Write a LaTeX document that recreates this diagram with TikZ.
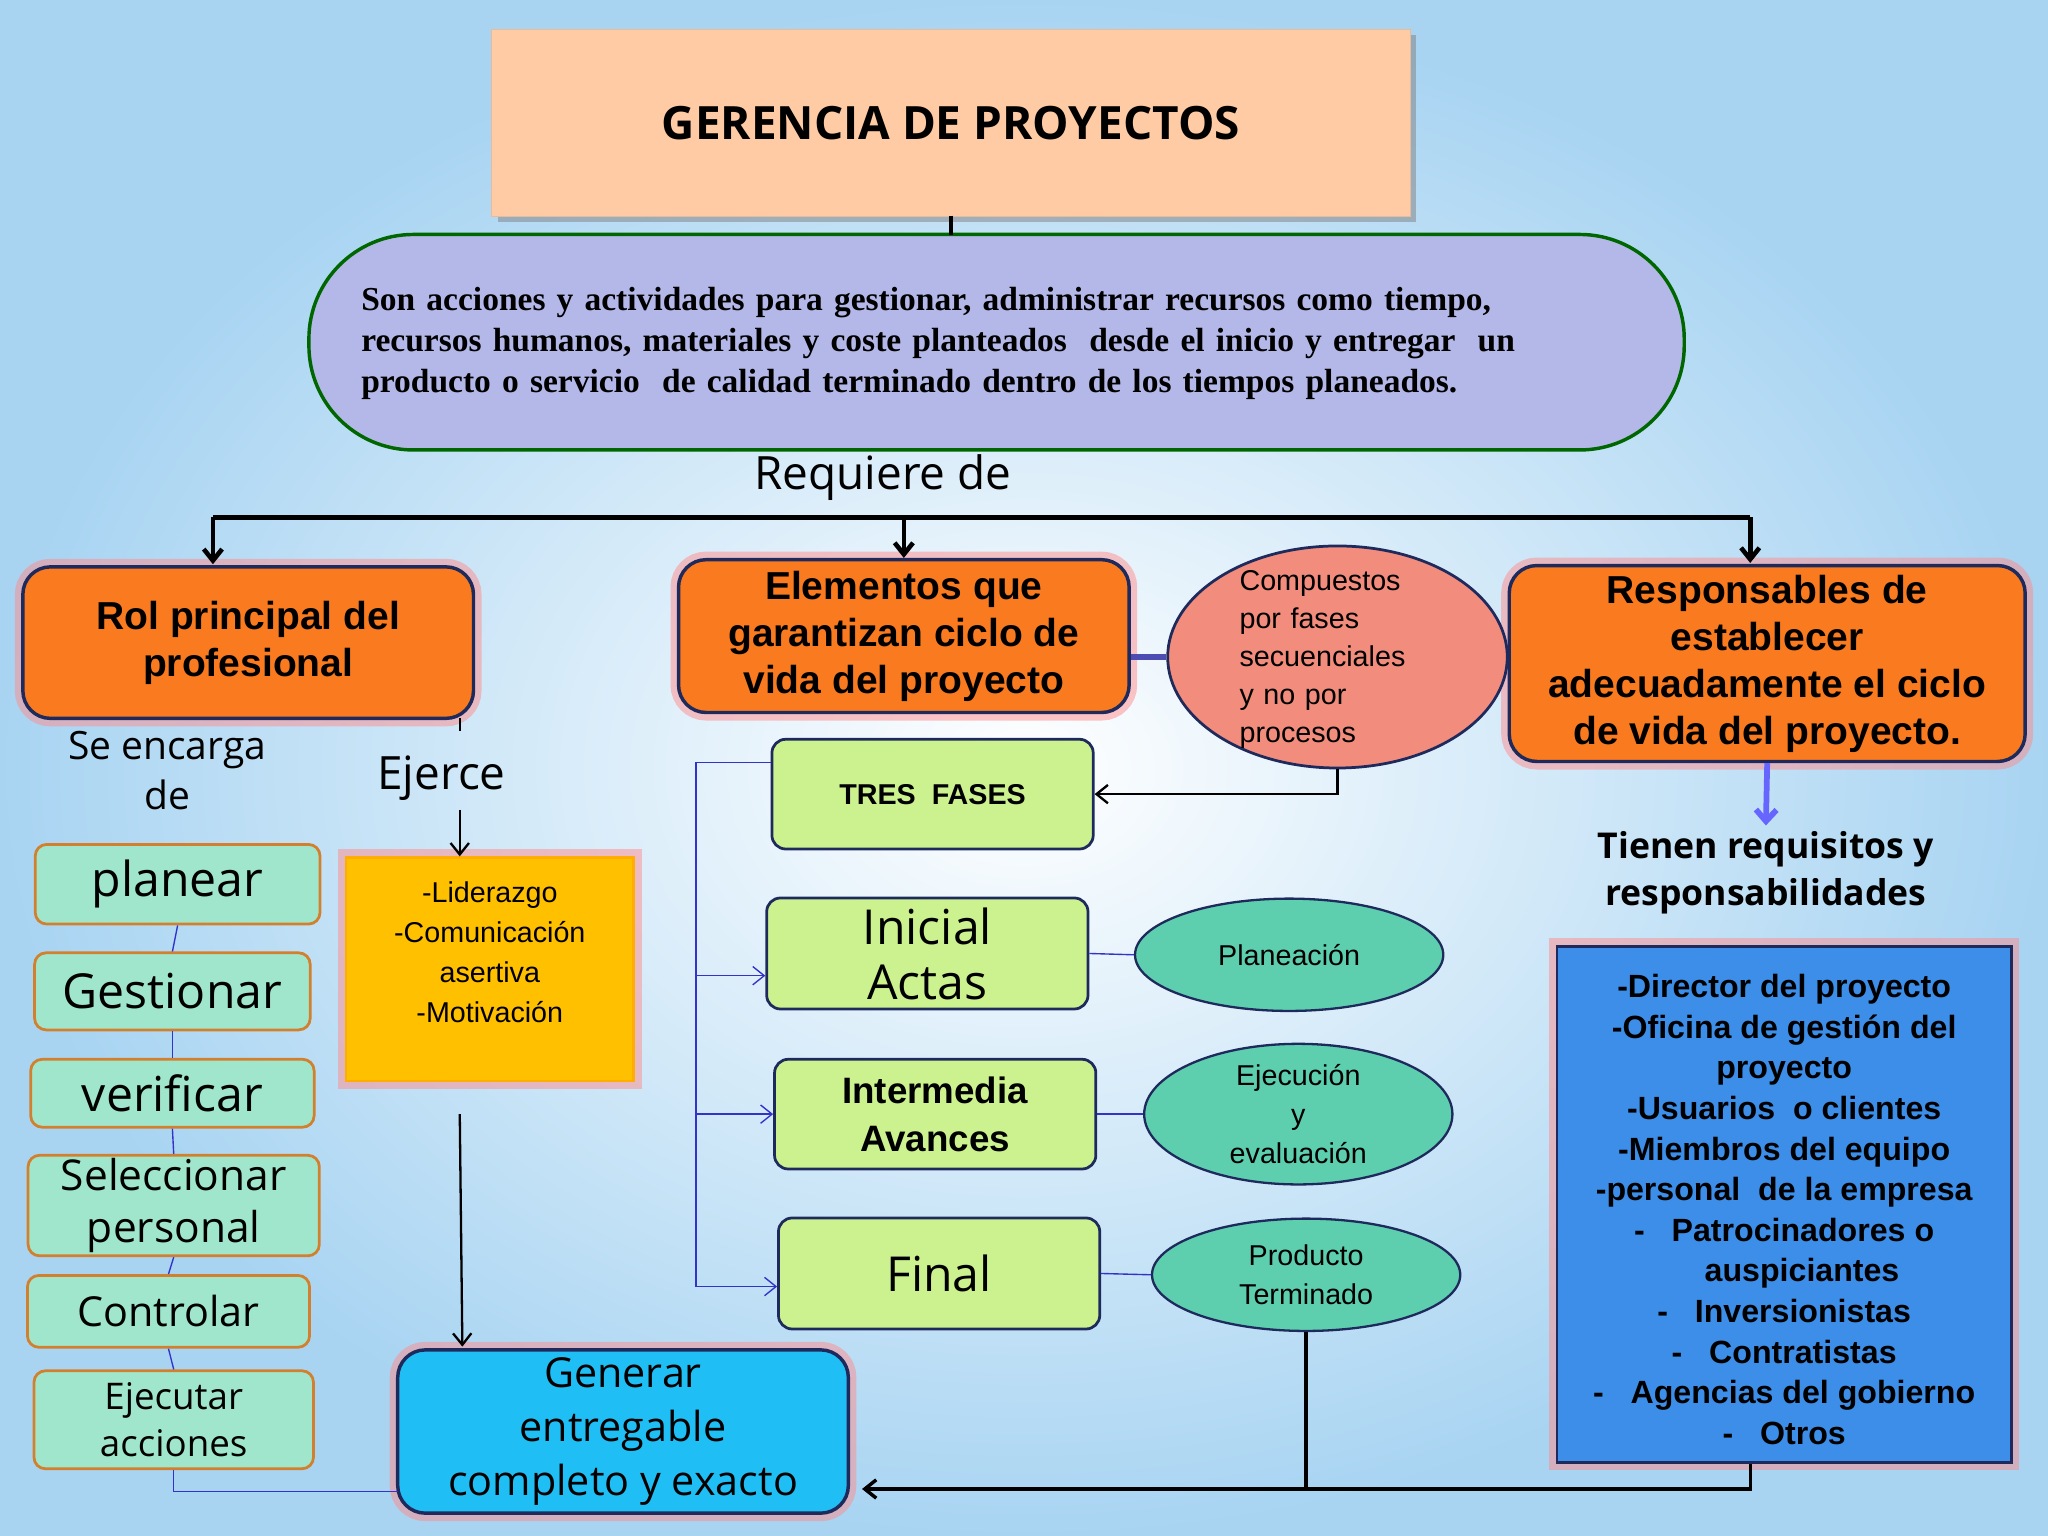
\documentclass[tikz,border=0pt]{standalone}
\usepackage{fontspec}
\setmainfont{Liberation Sans}
\newfontfamily\osans{Open Sans}
\newfontfamily\serifb{Liberation Serif}
\usetikzlibrary{shapes.geometric,arrows.meta,shadows}
\definecolor{peach}{HTML}{FFCBA4}
\definecolor{lav}{HTML}{B4B8E8}
\definecolor{orng}{HTML}{F97A1F}
\definecolor{salm}{HTML}{F28C7C}
\definecolor{lgreen}{HTML}{CCF28F}
\definecolor{teal}{HTML}{5DCFAF}
\definecolor{mint}{HTML}{A0E6CC}
\definecolor{bluebox}{HTML}{3C8EE8}
\definecolor{cyanb}{HTML}{1FBFF5}
\definecolor{yel}{HTML}{FFC000}
\definecolor{navy}{HTML}{1F2A5C}
\definecolor{bgedge}{HTML}{A8D4F2}
\tikzset{
 glow/.style={preaction={draw=red!45,line width=7pt,opacity=0.5}},
 hdr/.style={draw=navy,line width=1.5pt,fill=orng,rounded corners=12pt,glow,align=center,inner sep=0pt,
   font=\bfseries\fontsize{17}{20.5}\selectfont},
 fase/.style={draw=navy,line width=1.2pt,fill=lgreen,rounded corners=6pt,align=center,inner sep=0pt},
 ell/.style={ellipse,draw=navy,line width=1pt,fill=teal,align=center,inner sep=0pt,font=\fontsize{12.5}{17}\selectfont},
 act/.style={draw=brown!70!orange,line width=1.2pt,fill=mint,rounded corners=5pt,align=center,inner sep=0pt,font=\osans},
 thin/.style={draw=blue!60!gray,line width=0.6pt},
 arr/.style={-{Straight Barb[length=5pt,width=8pt]},line width=1pt},
 barr/.style={-{Straight Barb[length=5pt,width=8pt]},thin},
}
\begin{document}
\begin{tikzpicture}[x=0.02cm,y=-0.02cm]
\shade[inner color=white,outer color=bgedge] (0,0) rectangle (1568,1176);
\useasboundingbox (0,0) rectangle (1568,1176);
% title
\node (title) [draw=peach!80!gray,fill=peach,minimum width=703*0.02cm,minimum height=143*0.02cm,drop shadow,
  font=\osans\bfseries\fontsize{20}{24}\selectfont] at (728,94) {GERENCIA DE PROYECTOS};
\node (desc) [draw=green!40!black,line width=1.5pt,fill=lav,rounded corners=80*0.02cm,minimum width=1053*0.02cm,
  minimum height=165*0.02cm] at (763,262) {};
\node [text width=19.46cm,align=left,inner sep=0pt,font=\serifb\bfseries\fontsize{14.6}{17.8}\selectfont] at (763,263)
 {\makebox[19.46cm][s]{Son acciones y actividades para gestionar, administrar recursos como tiempo,}\\
  \makebox[19.46cm][s]{recursos humanos, materiales y coste planteados\ \ desde el inicio y entregar\ \ un}\\
  producto o servicio\ \ de calidad terminado dentro de los tiempos planeados.};
\draw[line width=1.5pt] (728,165) -- (728,180);
\node (req) [font=\osans\fontsize{20}{24}\selectfont] at (676,366) {Requiere de};
% headers
\node (rol) [hdr,minimum width=345*0.02cm,minimum height=116*0.02cm] at (190,492) {Rol principal del\\profesional};
\node (ele) [hdr,minimum width=345*0.02cm,minimum height=117*0.02cm] at (692,487) {Elementos que\\garantizan ciclo de\\vida del proyecto};
\node (res) [hdr,minimum width=395*0.02cm,minimum height=150*0.02cm] at (1353,508) {Responsables de\\establecer\\adecuadamente el ciclo\\de vida del proyecto.};
\coordinate (t1) at (163,396); \coordinate (t2) at (1340,396);
\draw[line width=2pt] (t1) -- (t2);
\draw[arr,line width=2pt] (t1) -- (163,432);
\draw[arr,line width=2pt] (692,396) -- (ele.north);
\draw[arr,line width=2pt] (t2) -- (1340,431);
% compuestos
\node (comp) [ellipse,draw=navy,line width=1.2pt,fill=salm,minimum width=260*0.02cm,minimum height=170*0.02cm,inner sep=0pt] at (1024,503) {};
\node [text width=3.6cm,align=left,inner sep=0pt,font=\fontsize{12.5}{16.5}\selectfont] at (1039,505)
 {Compuestos\\\makebox[3.6cm][s]{por fases}\\secuenciales\\\makebox[3.6cm][s]{y no por}\\procesos};
\draw[draw=blue!40!gray,line width=3pt] (ele.east |- 0,503) -- (comp.west);
% fases
\node (tres) [fase,minimum width=246*0.02cm,minimum height=84*0.02cm,font=\bfseries\fontsize{12.5}{15}\selectfont] at (714,608) {TRES\ \ FASES};
\node (ini) [fase,minimum width=246*0.02cm,minimum height=85*0.02cm,font=\osans\fontsize{21}{24}\selectfont] at (710,730) {Inicial\\Actas};
\node (int) [fase,minimum width=246*0.02cm,minimum height=84*0.02cm,font=\bfseries\fontsize{16}{21}\selectfont] at (716,853) {Intermedia\\Avances};
\node (fin) [fase,minimum width=246*0.02cm,minimum height=85*0.02cm,font=\osans\fontsize{21}{24}\selectfont] at (719,975) {Final};
\draw[arr] (comp.south) |- (tres.east);
\coordinate (bx) at (533,584);
\draw[thin] (tres.west |- bx) -- (bx) -- (533,985);
\draw[barr] (533,747) -- (ini.west |- 0,747);
\draw[barr] (533,853) -- (int.west);
\draw[barr] (533,985) -- (fin.west |- 0,985);
\node (pla) [ell,minimum width=236*0.02cm,minimum height=86*0.02cm] at (987,731) {Planeación};
\node (eje) [ell,minimum width=236*0.02cm,minimum height=90*0.02cm] at (994,853) {Ejecución\\y\\evaluación};
\node (pro) [ell,minimum width=236*0.02cm,minimum height=86*0.02cm] at (1000,976) {Producto\\Terminado};
\draw[thin] (ini.east) -- (pla.west);
\draw[thin] (int.east) -- (eje.west);
\draw[thin] (fin.east) -- (pro.west);
% responsables
\draw[-{Straight Barb[length=5pt,width=9pt]},draw=blue!60,line width=2.5pt] (res.south) -- (1352,632);
\node (tien) [font=\osans\bfseries\fontsize{15.5}{20.5}\selectfont,align=center] at (1352,668) {Tienen requisitos y\\responsabilidades};
\node (lst) [draw=navy,line width=1.2pt,fill=bluebox,glow,minimum width=348*0.02cm,minimum height=395*0.02cm] at (1366,922) {};
\node [align=center,font=\bfseries\fontsize{14}{17.7}\selectfont] at (1366,926)
 {-Director del proyecto\\-Oficina de gestión del\\proyecto\\-Usuarios\ \ o clientes\\-Miembros del equipo\\-personal\ \ de la empresa\\-\ \ \ Patrocinadores o\\\ \ \ \ auspiciantes\\-\ \ \ Inversionistas\\-\ \ \ Contratistas\\-\ \ \ Agencias del gobierno\\-\ \ \ Otros};
% left
\node (se) [font=\osans\fontsize{17}{21.5}\selectfont,align=center] at (128,590) {Se encarga\\de};
\node (p1) [act,minimum width=218*0.02cm,minimum height=61*0.02cm,font=\osans\fontsize{21}{24}\selectfont] at (136,677) {planear};
\node (p2) [act,minimum width=211*0.02cm,minimum height=59*0.02cm,font=\osans\fontsize{21}{24}\selectfont] at (132,759) {Gestionar};
\node (p3) [act,minimum width=217*0.02cm,minimum height=52*0.02cm,font=\osans\fontsize{21}{24}\selectfont] at (132,837) {verificar};
\node (p4) [act,minimum width=223*0.02cm,minimum height=77*0.02cm,font=\osans\fontsize{18.5}{23}\selectfont] at (133,923) {Seleccionar\\personal};
\node (p5) [act,minimum width=216*0.02cm,minimum height=55*0.02cm,font=\osans\fontsize{18}{22}\selectfont] at (129,1004) {Controlar};
\node (p6) [act,minimum width=214*0.02cm,minimum height=75*0.02cm,font=\osans\fontsize{16}{20.5}\selectfont] at (133,1087) {Ejecutar\\acciones};
\draw[thin] (p1.south) -- (p2.north);
\draw[thin] (p2.south) -- (p3.north);
\draw[thin] (p3.south) -- (p4.north);
\draw[thin] (p4.south) -- (p5.north);
\draw[thin] (p5.south) -- (p6.north);
\node (ej) [font=\osans\fontsize{20}{24}\selectfont] at (338,596) {Ejerce};
\draw[line width=1pt] (352,550) -- (352,560);
\node (yb) [draw=yel!70!orange,line width=1pt,fill=yel,glow,minimum width=220*0.02cm,minimum height=171*0.02cm] at (375,742) {};
\node [align=center,font=\fontsize{12.5}{17.5}\selectfont] at (375,729) {-Liderazgo\\-Comunicación\\asertiva\\-Motivación};
\draw[arr] (352,620) -- (yb.north -| 352,0);
\node (gen) [draw=navy,line width=1.5pt,fill=cyanb,rounded corners=12pt,glow,minimum width=345*0.02cm,minimum height=125*0.02cm,
  align=center,font=\osans\fontsize{18}{23.5}\selectfont] at (477,1096) {Generar\\entregable\\completo y exacto};
\draw[arr] (352,853) -- (354,1031);
\draw[thin] (p6.south) |- (305,1142);
\coordinate (jn) at (1000,1140);
\draw[line width=1.5pt] (lst.south -| 1340,0) |- (jn);
\draw[line width=1.5pt] (pro.south) -- (jn);
\draw[arr,line width=1.5pt] (jn) -- (660,1140);
\end{tikzpicture}
\end{document}
